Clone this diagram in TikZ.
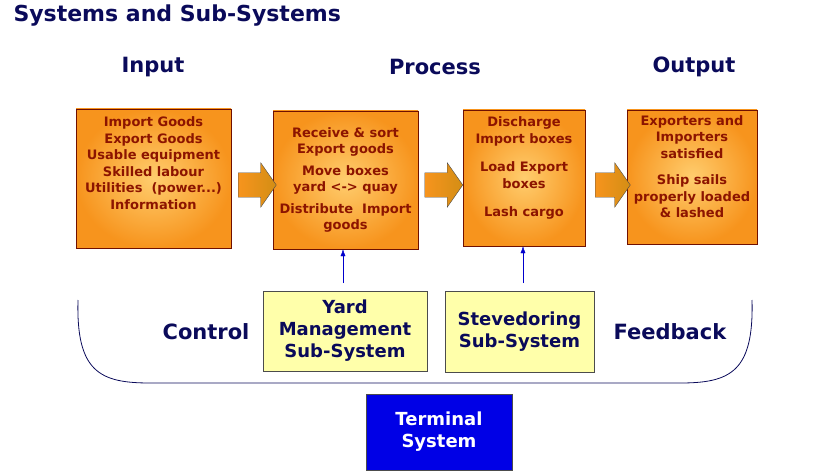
\documentclass[tikz,border=0pt]{standalone}
\usepackage{fontspec}
\setmainfont{DejaVu Sans}
\usetikzlibrary{shapes.arrows,arrows.meta}
\definecolor{navy}{RGB}{10,10,90}
\definecolor{txtred}{RGB}{140,20,0}
\definecolor{orin}{RGB}{255,205,110}
\definecolor{orout}{RGB}{247,148,29}
\definecolor{yel}{RGB}{255,255,170}
\begin{document}
\begin{tikzpicture}[x=1pt,y=-1pt,
  obox/.style={draw=txtred!80!black,inner color=orin,outer color=orout,align=center,font=\bfseries\fontsize{13}{16.5}\selectfont,text=txtred},
  ybox/.style={draw=black!70,fill=yel,align=center,font=\bfseries\fontsize{18}{22}\selectfont,text=navy},
  barrow/.style={single arrow,draw=black!70,left color=orout,right color=orout!70!olive,minimum height=38pt,inner xsep=0pt,inner ysep=12pt,single arrow head extend=10pt,single arrow tip angle=110},
  head/.style={font=\bfseries\fontsize{21}{25}\selectfont,text=navy},
  up/.style={draw=blue!80!black,-{Latex[length=7pt,width=5pt]}}]
\useasboundingbox (0,0) rectangle (829,473);
\node[anchor=west,font=\bfseries\fontsize{22}{26}\selectfont,text=navy] (title) at (10,16) {Systems and Sub-Systems};
\node[head] (hin) at (153,67) {Input};
\node[head] (hpr) at (435,67) {Process};
\node[head] (hout) at (694,67) {Output};
\node[obox,minimum width=155pt,minimum height=139pt] (in) at (153.5,178.5) {Import Goods\\Export Goods\\Usable equipment\\Skilled labour\\Utilities\ \ (power...)\\Information\\[14pt]};
\node[obox,minimum width=145pt,minimum height=138pt] (p1) at (345.5,180) {Receive \& sort\\Export goods\\[5pt]Move boxes\\yard <-> quay\\[5pt]Distribute\ \ Import\\goods};
\node[obox,minimum width=122pt,minimum height=136pt] (p2) at (524,178) {Discharge\\Import boxes\\[12pt]Load Export\\boxes\\[12pt]Lash cargo\\[6pt]};
\node[obox,minimum width=130pt,minimum height=134pt] (out) at (692,177) {Exporters and\\Importers\\satisfied\\[10pt]Ship sails\\properly loaded\\\& lashed\\[4pt]};
\node[barrow] (a1) at (253,185) {};
\node[barrow] (a2) at (439.5,185) {};
\node[barrow,minimum height=35pt] (a3) at (608.5,185) {};
\node[ybox,minimum width=164pt,minimum height=80pt] (yard) at (345,331) {Yard\\Management\\Sub-System};
\node[ybox,minimum width=149pt,minimum height=81pt] (stev) at (519.5,331.5) {Stevedoring\\Sub-System};
\node[draw=black!70,fill={rgb,255:red,0;green,0;blue,230},minimum width=146pt,minimum height=76pt,align=center,text=white,font=\bfseries\fontsize{18}{22}\selectfont] (term) at (439,432) {Terminal\\System};
\coordinate (u1) at (343,283);
\coordinate (u2) at (523,283);
\draw[up] (u1) -- (u1 |- p1.south);
\draw[up] (u2) -- (u2 |- p2.south);
\node[head] (ctl) at (206,332) {Control};
\node[head] (fb) at (670,332) {Feedback};
\coordinate (bl) at (78,300);
\coordinate (br) at (752,300);
\draw[navy,thick] (bl) .. controls (76,372) and (100,383) .. (150,383) -- (680,383) .. controls (730,383) and (754,372) .. (br);
\end{tikzpicture}
\end{document}
